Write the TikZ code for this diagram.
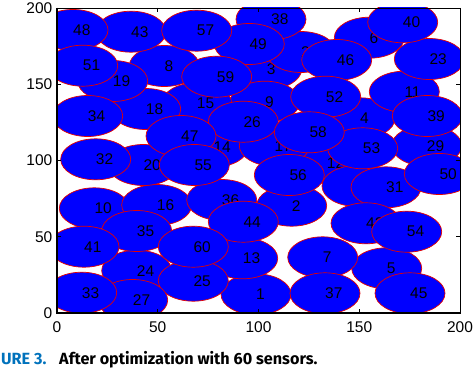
\documentclass[tikz,border=0pt]{standalone}
\usepackage{fontspec}
\setmainfont{Liberation Sans}
\newfontfamily\capfont{Fira Sans}
\usetikzlibrary{shapes.geometric}
\definecolor{capblue}{RGB}{0,114,188}
\begin{document}
\begin{tikzpicture}[x=1pt,y=-1pt,
  sens/.style={ellipse, draw=red!90!black, fill=blue, line width=0.7pt, inner sep=0pt,
    minimum width=70pt, minimum height=41pt},
  lbl/.style={anchor=west, inner sep=0pt, text=black, font=\fontsize{15.5}{15.5}\selectfont},
  ticklbl/.style={inner sep=0pt, text=black, font=\fontsize{15.5}{15.5}\selectfont},
  captext/.style={anchor=base west, inner sep=0pt, font=\capfont\bfseries\fontsize{16.2}{16.2}\selectfont}]
\useasboundingbox (0,0) rectangle (474,369);
\fill[white] (0,0) rectangle (474,369);
\begin{scope}
\clip (57,8) rectangle (460,313);
\foreach \n/\px/\py in {1/256/294.3, 2/291.7/205.7, 3/266.7/69, 4/360/118.3, 5/386.7/268.3,
  6/369.3/37.7, 7/322.7/257.3, 8/164.3/66, 9/265/101.7, 10/94.3/208.3, 11/404.3/91.7,
  12/326.7/162.7, 13/242.7/258.3, 14/213.3/146.7, 15/196.7/103.3, 16/156.7/205,
  17/274.3/145.7, 18/145.7/109, 19/112.7/81, 20/143.3/165, 23/429.3/59, 24/136.7/270.7,
  25/193.3/280.7, 26/243.3/121.7, 27/132.7/300, 28/301/52, 29/426.7/145.7, 30/357/186,
  31/386/187.3, 32/95.7/159.3, 33/81.7/292.7, 34/87.7/116, 35/136.7/231, 36/221.7/200,
  37/325/293.3, 38/271/19.3, 39/427.3/116, 40/402.7/22.3, 41/84/246.7, 42/366/223.3,
  43/131/31.7, 44/243.3/221.7, 45/410/293.3, 46/336.7/60, 47/181/136, 48/73/30,
  49/249.3/44, 50/439.3/174, 51/82.7/65.7, 52/325.7/96.7, 53/362.7/148.3, 54/406.7/231.7,
  55/194.3/165, 56/289.3/175, 57/196.7/30.7, 58/309.3/132.3, 59/216.7/76.7, 60/193.3/246.7}
{
  \node[sens] (e\n) at (\px,\py) {};
  \node[lbl] (t\n) at (\px,\py) {\n};
}
\end{scope}
% axes frame
\draw[line width=0.7pt] (57,8) rectangle (460,313);
\draw[line width=1.3pt] (57,8) -- (57,313) -- (460,313);
% ticks
\foreach \tx in {57,157.75,258.5,359.25,460} {
  \draw[line width=0.6pt] (\tx,313) -- (\tx,309);
  \draw[line width=0.6pt] (\tx,8) -- (\tx,12);
}
\foreach \ty in {8,84.25,160.5,236.75,313} {
  \draw[line width=0.6pt] (57,\ty) -- (61,\ty);
  \draw[line width=0.6pt] (460,\ty) -- (456,\ty);
}
% tick labels
\node[ticklbl, anchor=east] (y200) at (52.5,8) {200};
\node[ticklbl, anchor=east] (y150) at (52.5,84.25) {150};
\node[ticklbl, anchor=east] (y100) at (52.5,160.5) {100};
\node[ticklbl, anchor=east] (y50) at (52.5,236.75) {50};
\node[ticklbl, anchor=east] (y0) at (52.5,313) {0};
\node[ticklbl, anchor=north] (x0) at (57,321.5) {0};
\node[ticklbl, anchor=north] (x50) at (157.75,321.5) {50};
\node[ticklbl, anchor=north] (x100) at (258.5,321.5) {100};
\node[ticklbl, anchor=north] (x150) at (359.25,321.5) {150};
\node[ticklbl, anchor=north] (x200) at (460,321.5) {200};
% caption
\node[captext, text=capblue] (figlbl) at (1,364.5) {URE 3.};
\node[captext, text=black] (captxt) at (59,364.5) {After optimization with 60 sensors.};
\end{tikzpicture}
\end{document}
